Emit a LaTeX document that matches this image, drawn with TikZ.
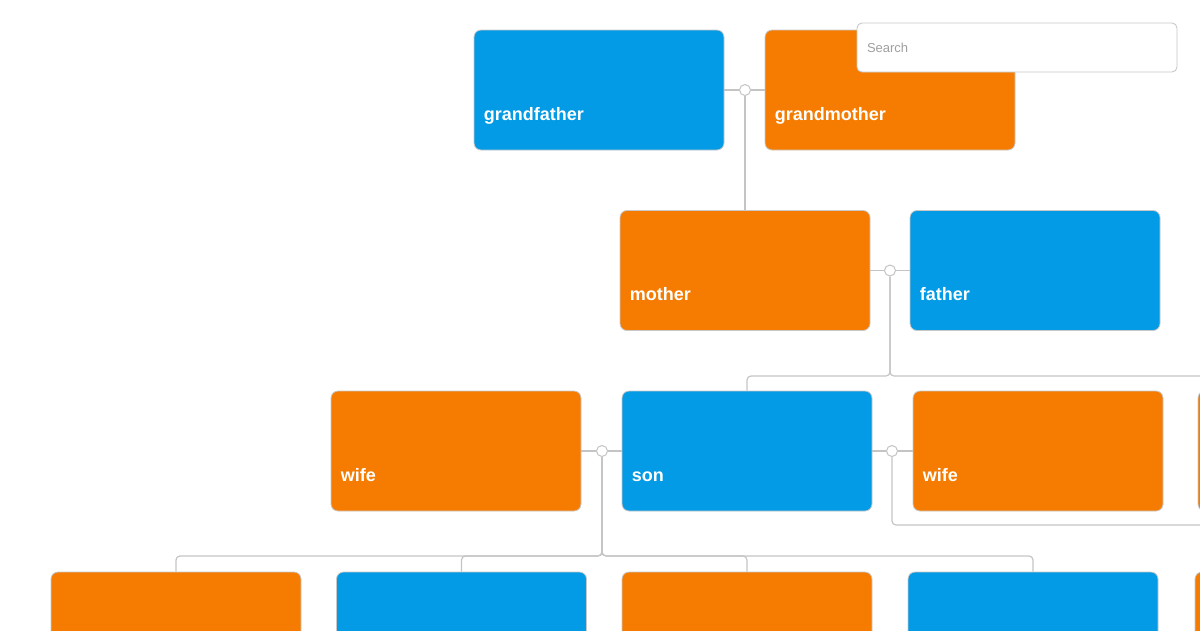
\documentclass[tikz,border=0pt]{standalone}
\usepackage{fontspec}
\setmainfont{Liberation Sans}
\usepackage{tikz}
\usetikzlibrary{calc}

\definecolor{maleblue}{HTML}{039BE5}
\definecolor{femaleorange}{HTML}{F57C00}
\definecolor{boxline}{HTML}{C8C8C8}
\definecolor{linkgrey}{HTML}{C4C4C4}
\definecolor{hintgrey}{HTML}{A0A0A0}

\tikzset{%
  person/.style={draw=boxline, line width=0.8pt, rounded corners=7pt,
    minimum width=250pt, minimum height=120pt, inner sep=0pt},
  male/.style={person, fill=maleblue},
  female/.style={person, fill=femaleorange},
  nametag/.style={anchor=base west, inner sep=0pt, xshift=10pt, yshift=30pt,
    text=white, font=\bfseries\fontsize{18pt}{20pt}\selectfont},
  knot/.style={circle, draw=linkgrey, fill=white, line width=1pt,
    minimum size=11pt, inner sep=0pt},
  link/.style={draw=linkgrey, line width=1.2pt, rounded corners=4pt},
  searchbox/.style={draw=boxline, fill=white, line width=0.9pt, rounded corners=5pt,
    minimum height=49pt, text width=300pt, inner xsep=10pt, align=left,
    text=hintgrey, font=\fontsize{13pt}{15pt}\selectfont}
}

\begin{document}
\begin{tikzpicture}[x=1pt,y=-1pt]
\clip (0,0) rectangle (1200,630);

% first generation
\node[male, label={[nametag]south west:grandfather}] (grandfather) at (599,90) {};
\node[female, label={[nametag]south west:grandmother}] (grandmother) at (890,90) {};
\node[knot] (k1) at (745,90) {};

% second generation
\node[female, label={[nametag]south west:mother}] (mother) at (745,270.5) {};
\node[male, label={[nametag]south west:father}] (father) at (1035,270.5) {};
\node[knot] (k2) at (890,270.5) {};

% third generation
\node[female, label={[nametag]south west:wife}] (wifeL) at (456,451) {};
\node[male, label={[nametag]south west:son}] (son) at (747,451) {};
\node[female, label={[nametag]south west:wife}] (wifeR) at (1038,451) {};
\node[female] (edge3) at (1323,451) {};
\node[knot] (k3) at (602,451) {};
\node[knot] (k4) at (892,451) {};

% fourth generation
\node[female] (kid1) at (176,632) {};
\node[male] (kid2) at (461.5,632) {};
\node[female] (kid3) at (747,632) {};
\node[male] (kid4) at (1033,632) {};
\node[female] (edge4) at (1320,632) {};

\coordinate (bus2) at (0,376);
\coordinate (bus3) at (0,556);
\coordinate (off2) at (1215,376);
\coordinate (off4) at (1215,525);

\draw[link] (grandfather.east) -- (k1) -- (grandmother.west);
\draw[link] (k1) -- (mother);
\draw[link] (mother.east) -- (k2) -- (father.west);
\draw[link] (k2.south) |- (son.north |- bus2) -- (son.north);
\draw[link] (k2.south) |- (off2);
\draw[link] (wifeL.east) -- (k3) -- (son.west);
\draw[link] (son.east) -- (k4) -- (wifeR.west);
\foreach \kid in {kid1,kid2,kid3,kid4}
  \draw[link] (k3.south) |- (\kid.north |- bus3) -- (\kid.north);
\draw[link] (k4.south) |- (off4);

% search field on top
\node[searchbox] (search) at (1017,47.5) {Search};
\end{tikzpicture}
\end{document}
